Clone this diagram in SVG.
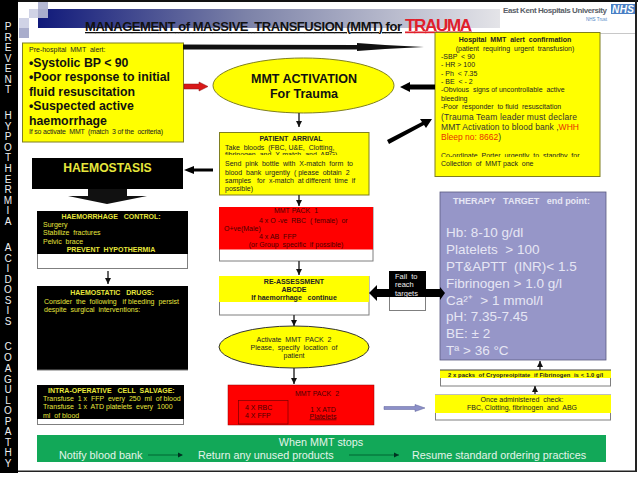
<svg xmlns="http://www.w3.org/2000/svg" width="638" height="479" viewBox="0 0 638 479">
<style>
text{font-family:"Liberation Sans",Arial,sans-serif;white-space:pre}
.s{font-size:7px;fill:#222}
.sb{font-size:7px;fill:#222;font-weight:bold}
.y{font-size:7px;fill:#e6e63c}
.yb{font-size:7px;fill:#e6e63c;font-weight:bold}
.r{font-size:7px;fill:#4a0000}
.big{font-size:12.3px;font-weight:bold;fill:#111}
.t{font-size:13.5px;fill:#e6e6f4}
.g{font-size:10.8px;fill:#e4f4ea}
.side{font-size:10px;fill:#f0f0f0;text-anchor:middle}
.m{text-anchor:middle}
.yel{fill:#ffff00;stroke:#7f7f20;stroke-width:1}
.wb{fill:#fff;stroke:#7f7f7f;stroke-width:1}
.con{stroke:#333;stroke-width:1.5;fill:none;marker-end:url(#tip)}
</style>
<defs>
<linearGradient id="band" x1="0" y1="0" x2="1" y2="0"><stop offset="0" stop-color="#10197a"/><stop offset="0.45" stop-color="#7c82a8"/><stop offset="1" stop-color="#e4e4e8"/></linearGradient>
<marker id="tip" markerUnits="userSpaceOnUse" markerWidth="7" markerHeight="6" refX="6" refY="3" orient="auto"><path d="M0 0L6 3L0 6Z" fill="#111"/></marker>
<clipPath id="hcut"><rect x="436" y="33" width="164" height="124"/></clipPath>
<clipPath id="pcut"><rect x="220" y="151" width="148" height="4"/></clipPath>
</defs>
<rect width="638" height="479" fill="#fff"/>
<g id="frame">
<rect x="0" y="0" width="18" height="473" fill="#000"/>
<rect x="18" y="0" width="620" height="2" fill="#111"/>
<rect x="635" y="0" width="2" height="472" fill="#222"/>
<rect x="18" y="470.500" width="619" height="1.500" fill="#222"/>
<rect x="38" y="9" width="462" height="19" fill="url(#band)"/>
<rect x="38" y="2" width="10" height="7" fill="#b4b8d4"/>
<rect x="29" y="9" width="9" height="9" fill="#d0d3e6"/>
<rect x="38" y="9" width="10" height="9" fill="#a9adcc"/>
<rect x="19" y="18" width="10" height="10" fill="#d0d3e6"/>
<rect x="29" y="18" width="9" height="10" fill="#fff"/>
<rect x="19" y="28" width="10" height="10" fill="#a9adcc"/>
<rect x="500" y="33" width="135" height="0.800" fill="#bbb"/>
</g>
<g id="side-text">
<text class="side" x="8 8 8 8 8 8 8" y="30 40.500 51 61.500 72 82.500 93">PREVENT</text>
<text class="side" x="8 8 8 8 8 8 8 8 8 8 8" y="119 129.500 140 150.500 161 171.500 182.500 193 203.500 214 224.500">HYPOTHERMIA</text>
<text class="side" x="8 8 8 8 8 8 8 8" y="251 261.500 272 282.500 293 303.500 314 324.500">ACIDOSIS</text>
<text class="side" x="8 8 8 8 8 8 8 8 8 8 8 8" y="350 361 372 382.500 393 403.500 414 424.500 435 445.500 456 467">COAGULOPATHY</text>
</g>
<g id="title">
<text x="85" y="31" font-size="13" font-weight="bold" fill="#111" text-decoration="underline" textLength="317">MANAGEMENT of MASSIVE  TRANSFUSION (MMT) for</text>
<text x="405" y="30.500" font-size="17" font-weight="bold" fill="#e0202c" text-decoration="underline" textLength="67">TRAUMA</text>
</g>
<g id="logo">
<text x="503" y="13" font-size="8" font-weight="bold" fill="#5a6068" textLength="104">East Kent Hospitals University</text>
<rect x="611" y="4" width="24" height="10" fill="#4a7fc4"/>
<text x="612" y="13" font-size="10" font-weight="bold" font-style="italic" fill="#fff" textLength="22">NHS</text>
<text x="586" y="21" font-size="4.500" fill="#4a7fc4" textLength="21">NHS Trust</text>
</g>
<g id="prehospital">
<rect class="yel" x="22.500" y="43" width="161" height="99"/>
<text class="s" x="29" y="52">Pre-hospital  MMT  alert:</text>
<text class="big" x="29" y="67">•Systolic BP &lt; 90</text>
<text class="big" x="29" y="81">•Poor response to initial</text>
<text class="big" x="29" y="96">fluid resuscitation</text>
<text class="big" x="29" y="110">•Suspected active</text>
<text class="big" x="29" y="125">haemorrhage</text>
<text class="s" x="29" y="134" textLength="134">If so activate  MMT  (match  3 of the  ocriteria)</text>
</g>
<g id="activation">
<ellipse cx="303.500" cy="85.500" rx="90.500" ry="27.500" fill="#ffff00" stroke="#7f7f20"/>
<text class="m" x="304" y="82.500" font-size="12.500" font-weight="bold" fill="#111">MMT ACTIVATION</text>
<text class="m" x="304" y="97.500" font-size="12.500" font-weight="bold" fill="#111">For Trauma</text>
</g>
<g id="confirmation">
<rect class="yel" x="435" y="32.500" width="165" height="144"/>
<text class="sb m" x="515" y="42">Hospital  MMT  alert  confirmation</text>
<text class="s m" x="515" y="50.500">(patient  requiring  urgent  transfusion)</text>
<text class="s" x="441" y="59">-SBP  &lt; 90</text>
<text class="s" x="441" y="67">- HR &gt; 100</text>
<text class="s" x="441" y="76">- Ph  &lt; 7.35</text>
<text class="s" x="441" y="84">- BE  &lt; - 2</text>
<text class="s" x="441" y="92">-Obvious  signs of uncontrollable  active</text>
<text class="s" x="441" y="101">bleeding</text>
<text class="s" x="441" y="109">-Poor  responder  to fluid  resuscitation</text>
<text x="441" y="120" font-size="8.500" fill="#333" textLength="136">(Trauma Team leader must declare</text>
<text x="441" y="130" font-size="8.500" fill="#333" textLength="138">MMT Activation to blood bank ,<tspan fill="#e83000">WHH</tspan></text>
<text x="441" y="140" font-size="8.500" fill="#333" textLength="60"><tspan fill="#e83000">Bleep no: 8662</tspan>)</text>
<text class="s" x="441" y="157.500" clip-path="url(#hcut)">Co-ordinate  Porter  urgently  to  standby  for</text>
<text class="s" x="441" y="166">Collection  of  MMT pack  one</text>
</g>
<g id="haemostasis">
<rect x="32" y="158" width="151" height="31" fill="#000"/>
<text class="m" x="107.500" y="172" font-size="12.200" font-weight="bold" fill="#e6e63c">HAEMOSTASIS</text>
</g>
<g id="haem-control">
<rect class="wb" x="37.500" y="211.500" width="150" height="57"/>
<rect x="37" y="211" width="151" height="43" fill="#000"/>
<text class="yb m" x="111" y="218.500">HAEMORRHAGE   CONTROL:</text>
<text class="y" x="43" y="227">Surgery</text>
<text class="y" x="43" y="235">Stabilize  fractures</text>
<text class="y" x="43" y="244">Pelvic  brace</text>
<text class="yb m" x="111" y="252">PREVENT  HYPOTHERMIA</text>
</g>
<g id="haem-drugs">
<rect x="37" y="286" width="151" height="84" fill="#000"/>
<rect x="37" y="369.500" width="151" height="1" fill="#777"/>
<text class="yb m" x="112" y="295">HAEMOSTATIC   DRUGS:</text>
<text class="y" x="44" y="303.500">Consider  the  following   if bleeding  persist</text>
<text class="y" x="44" y="312">despite  surgical  interventions:</text>
</g>
<g id="cell-salvage">
<rect class="wb" x="37.500" y="385.500" width="146" height="39"/>
<rect x="37" y="385" width="147" height="34" fill="#000"/>
<text class="yb" x="48" y="392.500">INTRA-OPERATIVE   CELL  SALVAGE:</text>
<text class="y" x="43" y="401">Transfuse  1 x  FFP  every  250  ml  of blood</text>
<text class="y" x="43" y="409">Transfuse  1 x  ATD platelets  every  1000</text>
<text class="y" x="43" y="418">ml  of blood</text>
</g>
<g id="arrival">
<rect class="yel" x="219.500" y="132.500" width="149.500" height="62.500"/>
<text class="sb m" x="291" y="141">PATIENT  ARRIVAL</text>
<text class="s" x="225" y="150">Take  bloods  (FBC, U&amp;E,  Clotting,</text>
<text class="s" clip-path="url(#pcut)" x="225" y="157">fibrinogen  and  X-match  and  ABG)</text>
<text class="s" x="225" y="166">Send  pink  bottle  with  X-match  form  to</text>
<text class="s" x="225" y="174.500">blood  bank  urgently  ( please  obtain  2</text>
<text class="s" x="225" y="183">samples   for  x-match  at different  time  if</text>
<text class="s" x="225" y="191">possible)</text>
</g>
<g id="pack1">
<rect class="wb" x="219.500" y="207.500" width="153.500" height="53.500"/>
<rect x="219" y="207" width="154" height="42.500" fill="#ff0000"/>
<text class="r m" x="296" y="212.500">MMT PACK  1</text>
<text class="r" x="259" y="222.500">4 x O -ve  RBC  ( female)  or</text>
<text class="r" x="224" y="230.500">O+ve(Male)</text>
<text class="r" x="259" y="238.500">4 x AB  FFP</text>
<text class="r m" x="296" y="246.500">(or Group  specific  if possible)</text>
</g>
<g id="reassess">
<rect class="wb" x="219.500" y="276.500" width="149.500" height="38.500"/>
<rect x="219" y="276" width="150" height="26" fill="#ffff00"/>
<text class="sb m" x="294" y="283.500">RE-ASSESSMENT</text>
<text class="sb m" x="294" y="292">ABCDE</text>
<text class="sb m" x="294" y="300">If haemorrhage   continue</text>
</g>
<g id="fail">
<rect class="wb" x="389.500" y="271.500" width="36" height="39"/>
<rect x="389" y="271" width="37" height="26" fill="#000"/>
<text x="395" y="278.500" font-size="7.500" fill="#eee">Fail  to</text>
<text x="395" y="287" font-size="7.500" fill="#eee">reach</text>
<text x="395" y="295.500" font-size="7.500" fill="#eee">targets</text>
</g>
<g id="pack2-activate">
<ellipse cx="294" cy="347" rx="75" ry="21" fill="#ffff00" stroke="#333"/>
<text class="s m" x="294" y="341.500">Activate  MMT  PACK  2</text>
<text class="s m" x="294" y="350">Please,  specify  location  of</text>
<text class="s m" x="294" y="358">patient</text>
</g>
<g id="pack2">
<rect x="228" y="385" width="146" height="40" fill="#ff0000" stroke="#900" stroke-width="0.500"/>
<rect x="238.500" y="400.500" width="49.500" height="23.500" fill="none" stroke="#700" stroke-width="0.700"/>
<text class="r m" x="317" y="395.500">MMT PACK  2</text>
<text class="r" x="245" y="409.500">4 X RBC</text>
<text class="r" x="245" y="417.500">4 X FFP</text>
<text class="r m" x="323" y="411.500">1 X ATD</text>
<text class="r m" x="323" y="418.500" text-decoration="underline">Platelets</text>
</g>
<g id="therapy">
<rect x="440" y="192" width="166" height="168" fill="#9696c8" stroke="#5a5a80" stroke-width="0.800"/>
<text x="453" y="204" font-size="9" font-weight="bold" fill="#e6e6f4" textLength="137">THERAPY   TARGET   end point:</text>
<text class="t" x="446" y="237">Hb: 8-10 g/dl</text>
<text class="t" x="446" y="254">Platelets  &gt; 100</text>
<text class="t" x="446" y="271">PT&amp;APTT  (INR)&lt; 1.5</text>
<text class="t" x="446" y="288">Fibrinogen &gt; 1.0 g/l</text>
<text class="t" x="446" y="305">Ca²⁺  &gt; 1 mmol/l</text>
<text class="t" x="446" y="321">pH: 7.35-7.45</text>
<text class="t" x="446" y="338">BE: ± 2</text>
<text class="t" x="446" y="355">Tª &gt; 36 °C</text>
</g>
<g id="cryo">
<rect class="wb" x="440.500" y="370.500" width="170" height="15.500"/>
<rect x="440" y="370" width="171" height="8" fill="#ffff00"/>
<rect x="440" y="369.500" width="171" height="1" fill="#444"/>
<text x="448" y="376.500" font-size="5.800" font-weight="bold" fill="#222" textLength="155">2 x packs  of Cryopreoipitate  if Fibrinogen  is &lt; 1.0 g/l</text>
</g>
<g id="check">
<rect class="wb" x="435.500" y="395" width="175" height="25"/>
<rect x="435" y="395" width="176" height="18" fill="#ffff00"/>
<text class="s m" x="522" y="401.500">Once administered  check:</text>
<text class="s m" x="522" y="410">FBC, Clotting, fibrinogen  and  ABG</text>
</g>
<g id="stops">
<rect x="37" y="435" width="569" height="27" fill="#12a858"/>
<text class="g m" x="321" y="446">When MMT stops</text>
<text class="g" x="59" y="459">Notify blood bank</text>
<text class="g" x="198" y="459">Return any unused products</text>
<text class="g" x="412" y="459">Resume standard ordering practices</text>
</g>
<g id="connectors">
<path d="M183 44.500L357 45L357 43L385 45L424 47L385 49L357 51L357 49.500L183 49.500Z" fill="#111"/>
<path d="M184 84L199 84L199 82L208 86.500L199 91L199 89L184 89Z" fill="#d81818" stroke="#8a1010" stroke-width="0.500"/>
<path d="M435 84.500L410 84.500L410 82L400 87L410 92L410 89.500L435 89.500Z" fill="#000"/>
<path d="M387 140L422 122L420 119L432 119L426 128L424 125L389 144Z" fill="#000"/>
<path d="M213 168.500L194 168.500L194 166L184 170L194 174L194 171.500L213 171.500Z" fill="#000"/>
<path d="M88 189L127 189L127 196L147 196L107 204L68 196L88 196Z" fill="#111"/>
<line class="con" x1="299" y1="113" x2="299" y2="127"/>
<line class="con" x1="299" y1="195" x2="299" y2="206"/>
<line class="con" x1="299" y1="261" x2="299" y2="275"/>
<line class="con" x1="294" y1="315" x2="294" y2="326"/>
<line class="con" x1="294" y1="368" x2="294" y2="384"/>
<line class="con" x1="108" y1="271" x2="108" y2="284"/>
<line class="con" x1="540" y1="370" x2="540" y2="361"/>
<line class="con" x1="535" y1="394" x2="535" y2="386"/>
<path d="M369 293L377 285L377 289L389 289L389 297L440 297L440 300L445 293L440 287L440 289L426 289L426 297L377 297L377 301Z" fill="#000"/>
<path d="M384 406.500L415 406.500L415 404.500L425 408L415 411.500L415 409.500L384 409.500Z" fill="#8c90c8" stroke="#5a5e98" stroke-width="0.500"/>
<line x1="148" y1="455" x2="182" y2="455" stroke="#063" stroke-width="1"/>
<path d="M178 452.500L183 455L178 457.500Z" fill="#032"/>
<line x1="349" y1="455" x2="399" y2="455" stroke="#063" stroke-width="1"/>
<path d="M394 452.500L399 455L394 457.500Z" fill="#032"/>
</g>
</svg>
